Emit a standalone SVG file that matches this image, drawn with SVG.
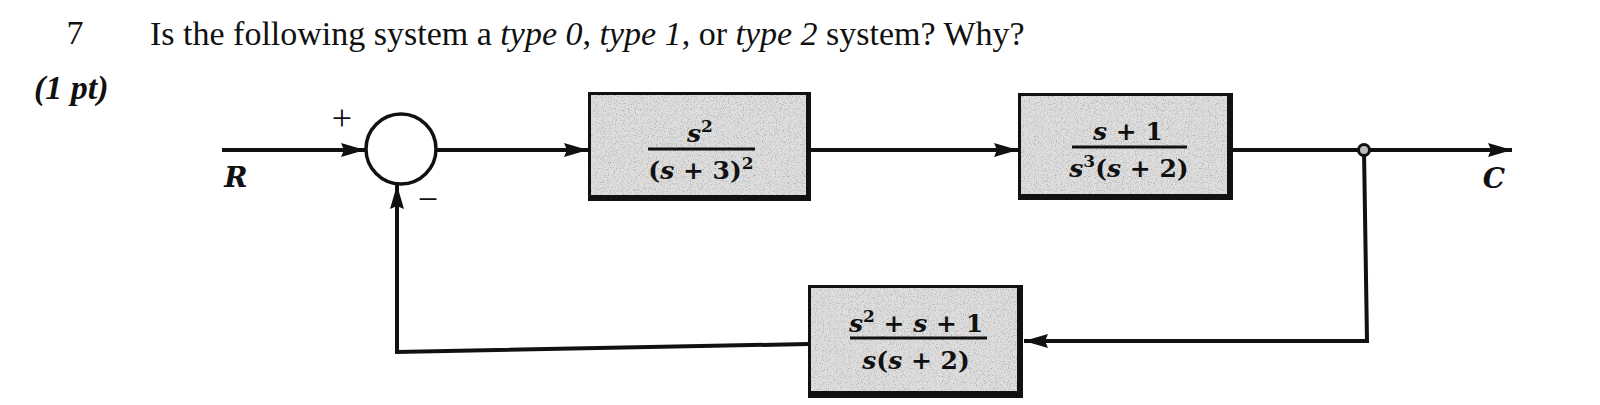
<svg xmlns="http://www.w3.org/2000/svg" width="1600" height="405" viewBox="0 0 1600 405">
<style>
.q{font-family:"Liberation Serif","Times New Roman",serif;font-size:34px;fill:#111}
.m{font-family:"DejaVu Serif","Liberation Serif",serif;font-size:25px;font-weight:bold;fill:#111}
.lbl{font-family:"DejaVu Serif","Liberation Serif",serif;font-size:28px;font-weight:bold;font-style:italic;fill:#111}
.i{font-style:italic}
.sign{font-family:"Liberation Serif",serif;font-size:36px;fill:#111}
.ln{fill:none;stroke:#111;stroke-width:4;stroke-linejoin:miter}
.fill{fill:#dedede}
.frame{fill:none;stroke:#111;stroke-width:3}
.shadow{fill:#111}
.bar{stroke:#111;stroke-width:3}
</style>
<defs>
<marker id="ah" markerUnits="userSpaceOnUse" markerWidth="26" markerHeight="16" refX="24" refY="7" orient="auto">
<path d="M0,0 L24,7 L0,14 L3,7 Z" fill="#111"/>
</marker>
<filter id="grain" x="0" y="0" width="1" height="1">
<feTurbulence type="fractalNoise" baseFrequency="0.85" numOctaves="2" seed="3" result="n"/>
<feColorMatrix in="n" type="matrix" values="0 0 0 0 0.45  0 0 0 0 0.45  0 0 0 0 0.45  3.5 0 0 0 -1.75" result="sp"/>
<feComposite in="sp" in2="SourceGraphic" operator="in" result="spc"/>
<feMerge><feMergeNode in="SourceGraphic"/><feMergeNode in="spc"/></feMerge>
</filter>
</defs>
<rect width="1600" height="405" fill="#fff"/>
<text class="q" x="75" y="44" text-anchor="middle">7</text>
<text class="q" x="34" y="99" font-weight="bold" font-style="italic" font-size="33">(1 pt)</text>
<text class="q" x="150" y="45">Is the following system a <tspan class="i">type 0</tspan>, <tspan class="i">type 1</tspan>, or <tspan class="i">type 2</tspan> system? Why?</text>

<g id="connectors">
<path class="ln" d="M222,150 L365,150" marker-end="url(#ah)"/>
<path class="ln" d="M436,150 L588,150" marker-end="url(#ah)"/>
<path class="ln" d="M811,150 L1018,150" marker-end="url(#ah)"/>
<path class="ln" d="M1233,150 L1512,150" marker-end="url(#ah)"/>
<path class="ln" d="M1364,150 L1367,341 L1024,341" marker-end="url(#ah)"/>
<path class="ln" d="M808,344 L397,352 L397,185" marker-end="url(#ah)"/>
<circle cx="1364" cy="150" r="5.5" fill="#bbb" stroke="#111" stroke-width="3"/>
</g>

<g id="sum">
<circle cx="401" cy="149" r="35" fill="#fff" stroke="#111" stroke-width="3.5"/>
<text class="sign" x="342" y="130" text-anchor="middle">+</text>
<text class="sign" x="428" y="211" text-anchor="middle">−</text>
</g>

<g id="labelR"><text class="lbl" x="236" y="187" text-anchor="middle">R</text></g>
<g id="labelC"><text class="lbl" x="1494" y="188" text-anchor="middle">C</text></g>

<g id="G1">
<rect class="shadow" x="588" y="92" width="223" height="109"/>
<rect class="fill" x="589.5" y="93.5" width="218" height="103" filter="url(#grain)"/>
<rect class="frame" x="589.5" y="93.5" width="218" height="103"/>
<text class="m" x="700" y="142" text-anchor="middle"><tspan class="i">s</tspan><tspan dy="-10" font-size="17">2</tspan></text>
<line class="bar" x1="648" y1="149" x2="755" y2="149"/>
<text class="m" x="701" y="179" text-anchor="middle">(<tspan class="i">s</tspan> + 3)<tspan dy="-10" font-size="17">2</tspan></text>
</g>

<g id="G2">
<rect class="shadow" x="1018" y="93" width="215" height="107"/>
<rect class="fill" x="1019.5" y="94.5" width="209" height="101" filter="url(#grain)"/>
<rect class="frame" x="1019.5" y="94.5" width="209" height="101"/>
<text class="m" x="1128" y="140" text-anchor="middle"><tspan class="i">s</tspan> + 1</text>
<line class="bar" x1="1072" y1="147" x2="1187" y2="147"/>
<text class="m" x="1129" y="177" text-anchor="middle"><tspan class="i">s</tspan><tspan dy="-10" font-size="17">3</tspan><tspan dy="10">(</tspan><tspan class="i">s</tspan> + 2)</text>
</g>

<g id="H">
<rect class="shadow" x="808" y="285" width="215" height="113"/>
<rect class="fill" x="809.5" y="286.5" width="209" height="106" filter="url(#grain)"/>
<rect class="frame" x="809.5" y="286.5" width="209" height="106"/>
<text class="m" x="916" y="332" text-anchor="middle"><tspan class="i">s</tspan><tspan dy="-10" font-size="17">2</tspan><tspan dy="10"> + </tspan><tspan class="i">s</tspan> + 1</text>
<line class="bar" x1="850" y1="338" x2="987" y2="338"/>
<text class="m" x="916" y="369" text-anchor="middle"><tspan class="i">s</tspan>(<tspan class="i">s</tspan> + 2)</text>
</g>
</svg>
